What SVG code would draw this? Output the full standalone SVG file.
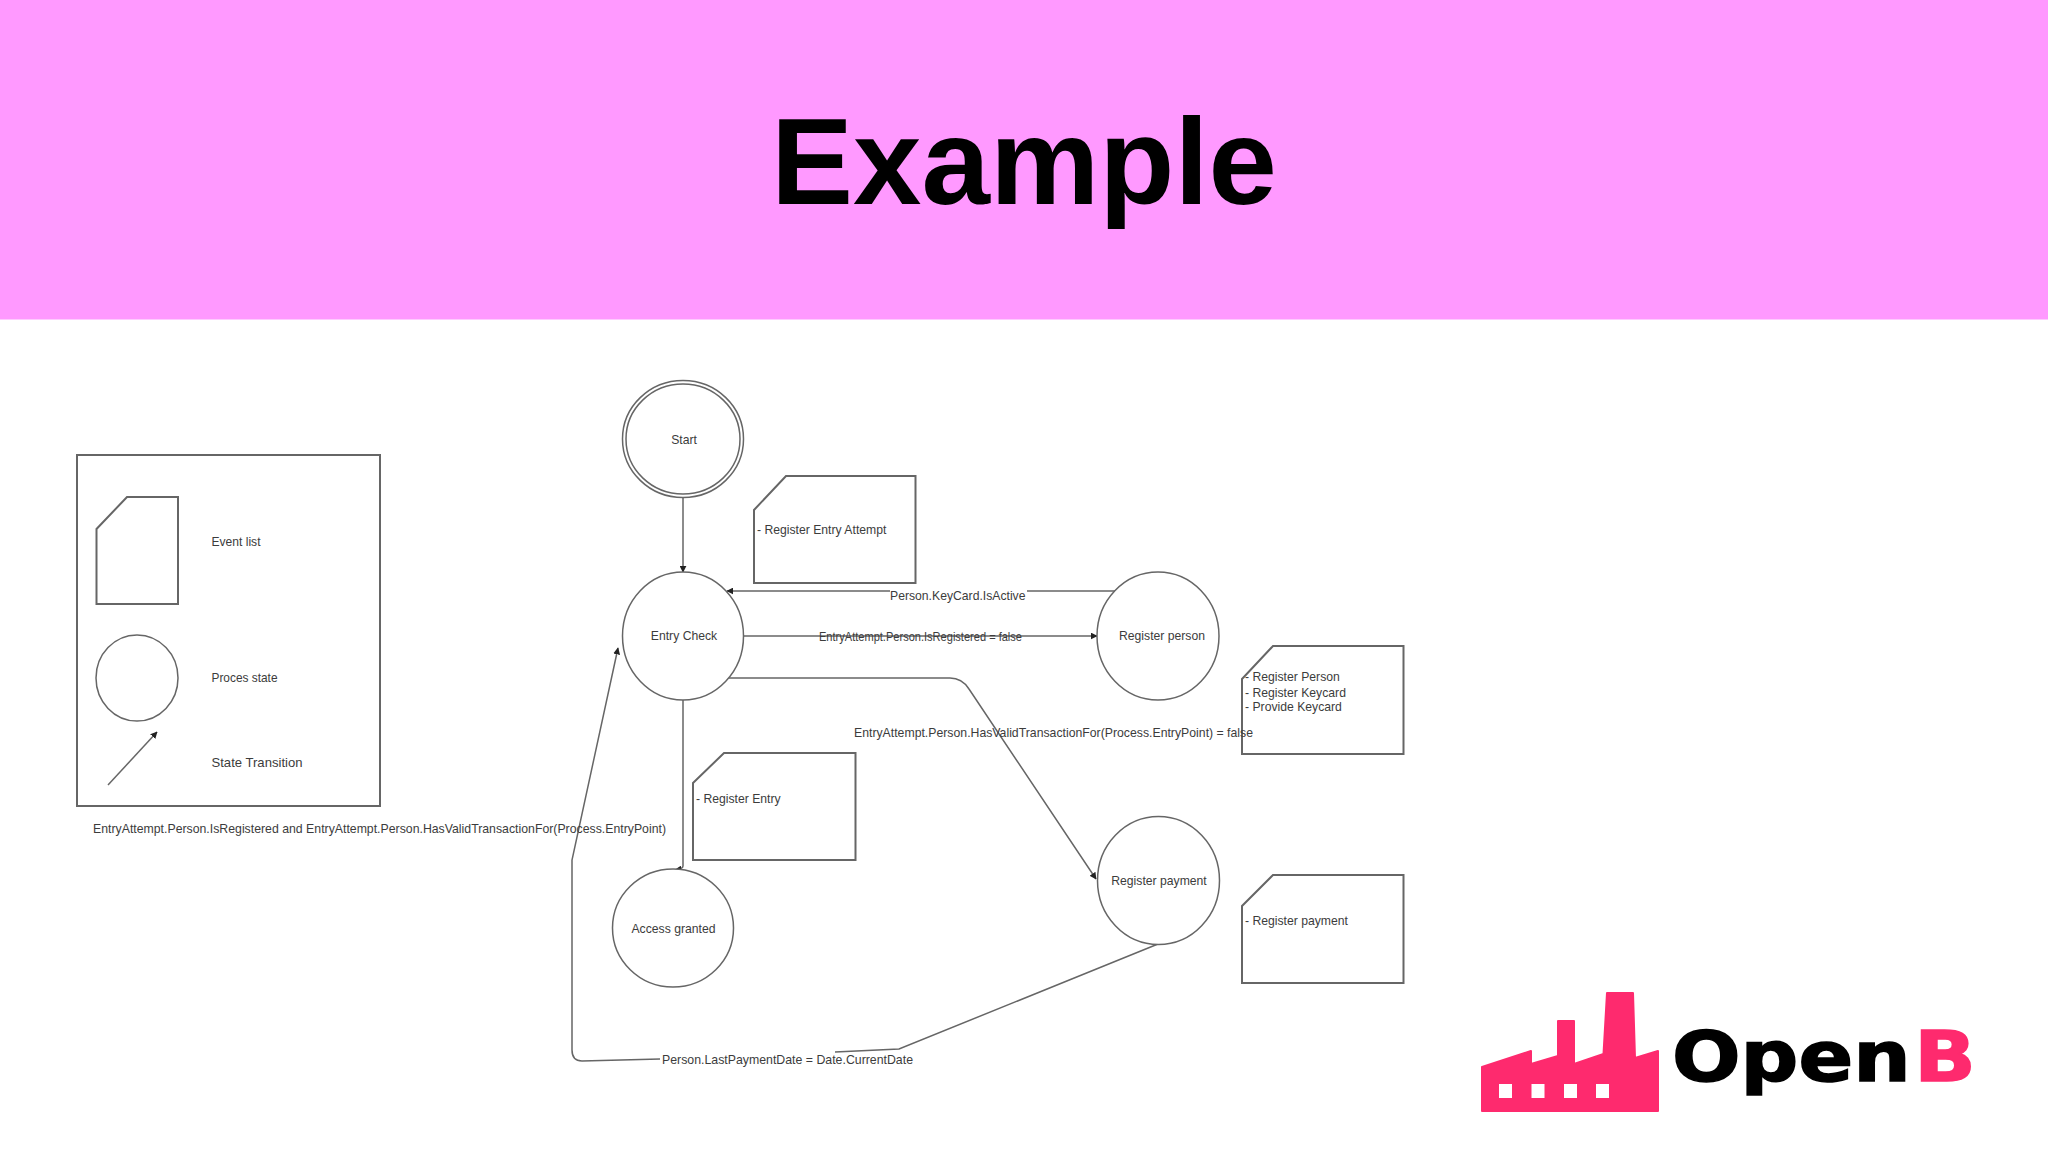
<svg xmlns="http://www.w3.org/2000/svg" width="2048" height="1152" viewBox="0 0 2048 1152">
<style>
.s{fill:none;stroke:#666;stroke-width:1.5}
.d{fill:#fff;stroke:#666;stroke-width:2}
.n{fill:#fff;stroke:#666;stroke-width:1.5}
.t{font-family:"Liberation Sans",Arial,sans-serif;font-size:12.2px;fill:#3c3c3c}
.m{text-anchor:middle}
</style>
<defs>
<marker id="a" viewBox="0 0 10 10" refX="9" refY="5" markerWidth="7" markerHeight="7" markerUnits="userSpaceOnUse" orient="auto"><path d="M0 0L10 5L0 10Z" fill="#222"/></marker>
</defs>
<rect width="2048" height="1152" fill="#fff"/>
<rect id="header" width="2048" height="319.500" fill="#ff99ff"/>
<text id="title" x="1024" y="204" text-anchor="middle" font-family="'Liberation Sans',Arial,sans-serif" font-weight="700" font-size="123" fill="#000">Example</text>

<g id="legend">
<rect class="d" x="77" y="455" width="303" height="351"/>
<path class="d" d="M96.500 529L127 497H178V604H96.500Z"/>
<ellipse class="n" cx="137" cy="678" rx="41" ry="43"/>
<path class="s" d="M108 785L157 732" marker-end="url(#a)"/>
<text class="t" x="211.500" y="546" textLength="49" lengthAdjust="spacingAndGlyphs">Event list</text>
<text class="t" x="211.500" y="682" textLength="66" lengthAdjust="spacingAndGlyphs">Proces state</text>
<text class="t" x="211.500" y="767" textLength="91" lengthAdjust="spacingAndGlyphs">State Transition</text>
</g>

<g id="connectors">
<path class="s" d="M683 497V572" marker-end="url(#a)"/>
<path class="s" d="M1115 591H1027M890 591H727" marker-end="url(#a)"/>
<path class="s" d="M744 636H1097" marker-end="url(#a)"/>
<path class="s" d="M728 678H950Q962 678 969 689L1096 879" marker-end="url(#a)"/>
<path class="s" d="M683 700V866Q683 869 675 870" marker-end="url(#a)"/>
<path class="s" d="M1158 944L899 1049L835 1052M660 1059L582 1061Q572 1061 572 1050V860L618 648" marker-end="url(#a)"/>
</g>

<g id="start"><ellipse class="n" cx="683" cy="439" rx="60.500" ry="58.500"/><ellipse class="n" cx="683" cy="439" rx="57" ry="55"/><text class="t m" x="684" y="444">Start</text></g>
<g id="entry-check"><ellipse class="n" cx="683" cy="636" rx="60.500" ry="64"/><text class="t m" x="684" y="640">Entry Check</text></g>
<g id="register-person"><ellipse class="n" cx="1158" cy="636" rx="61" ry="64"/><text class="t m" x="1162" y="640">Register person</text></g>
<g id="access-granted"><ellipse class="n" cx="673" cy="928" rx="60.500" ry="59"/><text class="t m" x="673.500" y="933">Access granted</text></g>
<g id="register-payment"><ellipse class="n" cx="1158.500" cy="880.500" rx="61" ry="64"/><text class="t m" x="1159" y="885">Register payment</text></g>

<g id="list-entry-attempt"><path class="d" d="M754 510L786 476H915.500V583H754Z"/><text class="t" x="757" y="534">- Register Entry Attempt</text></g>
<g id="list-entry"><path class="d" d="M693 783L724 753H855.500V860H693Z"/><text class="t" x="696" y="803">- Register Entry</text></g>
<g id="list-person"><path class="d" d="M1242 679L1273 646H1403.500V754H1242Z"/><text class="t" x="1245" y="681">- Register Person</text><text class="t" x="1245" y="697">- Register Keycard</text><text class="t" x="1245" y="711">- Provide Keycard</text></g>
<g id="list-payment"><path class="d" d="M1242 906L1273 875H1403.500V983H1242Z"/><text class="t" x="1245" y="925">- Register payment</text></g>

<g id="labels">
<text class="t" x="93" y="833" textLength="573" lengthAdjust="spacingAndGlyphs">EntryAttempt.Person.IsRegistered and EntryAttempt.Person.HasValidTransactionFor(Process.EntryPoint)</text>
<text class="t" x="819" y="641" textLength="203" lengthAdjust="spacingAndGlyphs">EntryAttempt.Person.IsRegistered = false</text>
<text class="t" x="890" y="600">Person.KeyCard.IsActive</text>
<text class="t" x="854" y="737" textLength="399" lengthAdjust="spacingAndGlyphs">EntryAttempt.Person.HasValidTransactionFor(Process.EntryPoint) = false</text>
<text class="t" x="662" y="1064" textLength="251" lengthAdjust="spacingAndGlyphs">Person.LastPaymentDate = Date.CurrentDate</text>
</g>

<g id="logo">
<path fill="#fe2a6e" stroke="#fe2a6e" stroke-width="2" stroke-linejoin="round" d="M1482 1067L1531 1051V1064L1558 1056V1021H1574V1064L1603.500 1054L1607 993H1633L1635 1058L1658 1051V1111H1482Z"/>
<g fill="#fff"><rect x="1499" y="1084" width="13" height="14"/><rect x="1531.500" y="1084" width="13" height="14"/><rect x="1564" y="1084" width="13" height="14"/><rect x="1596" y="1084" width="13" height="14"/></g>
<text transform="translate(1672 1081) scale(1.17 1)" font-family="'DejaVu Sans',sans-serif" font-weight="700" font-size="69" fill="#000" stroke="#000" stroke-width="1.500">Open<tspan x="207" fill="#fe2a6e" stroke="#fe2a6e">B</tspan></text>
</g>
</svg>
